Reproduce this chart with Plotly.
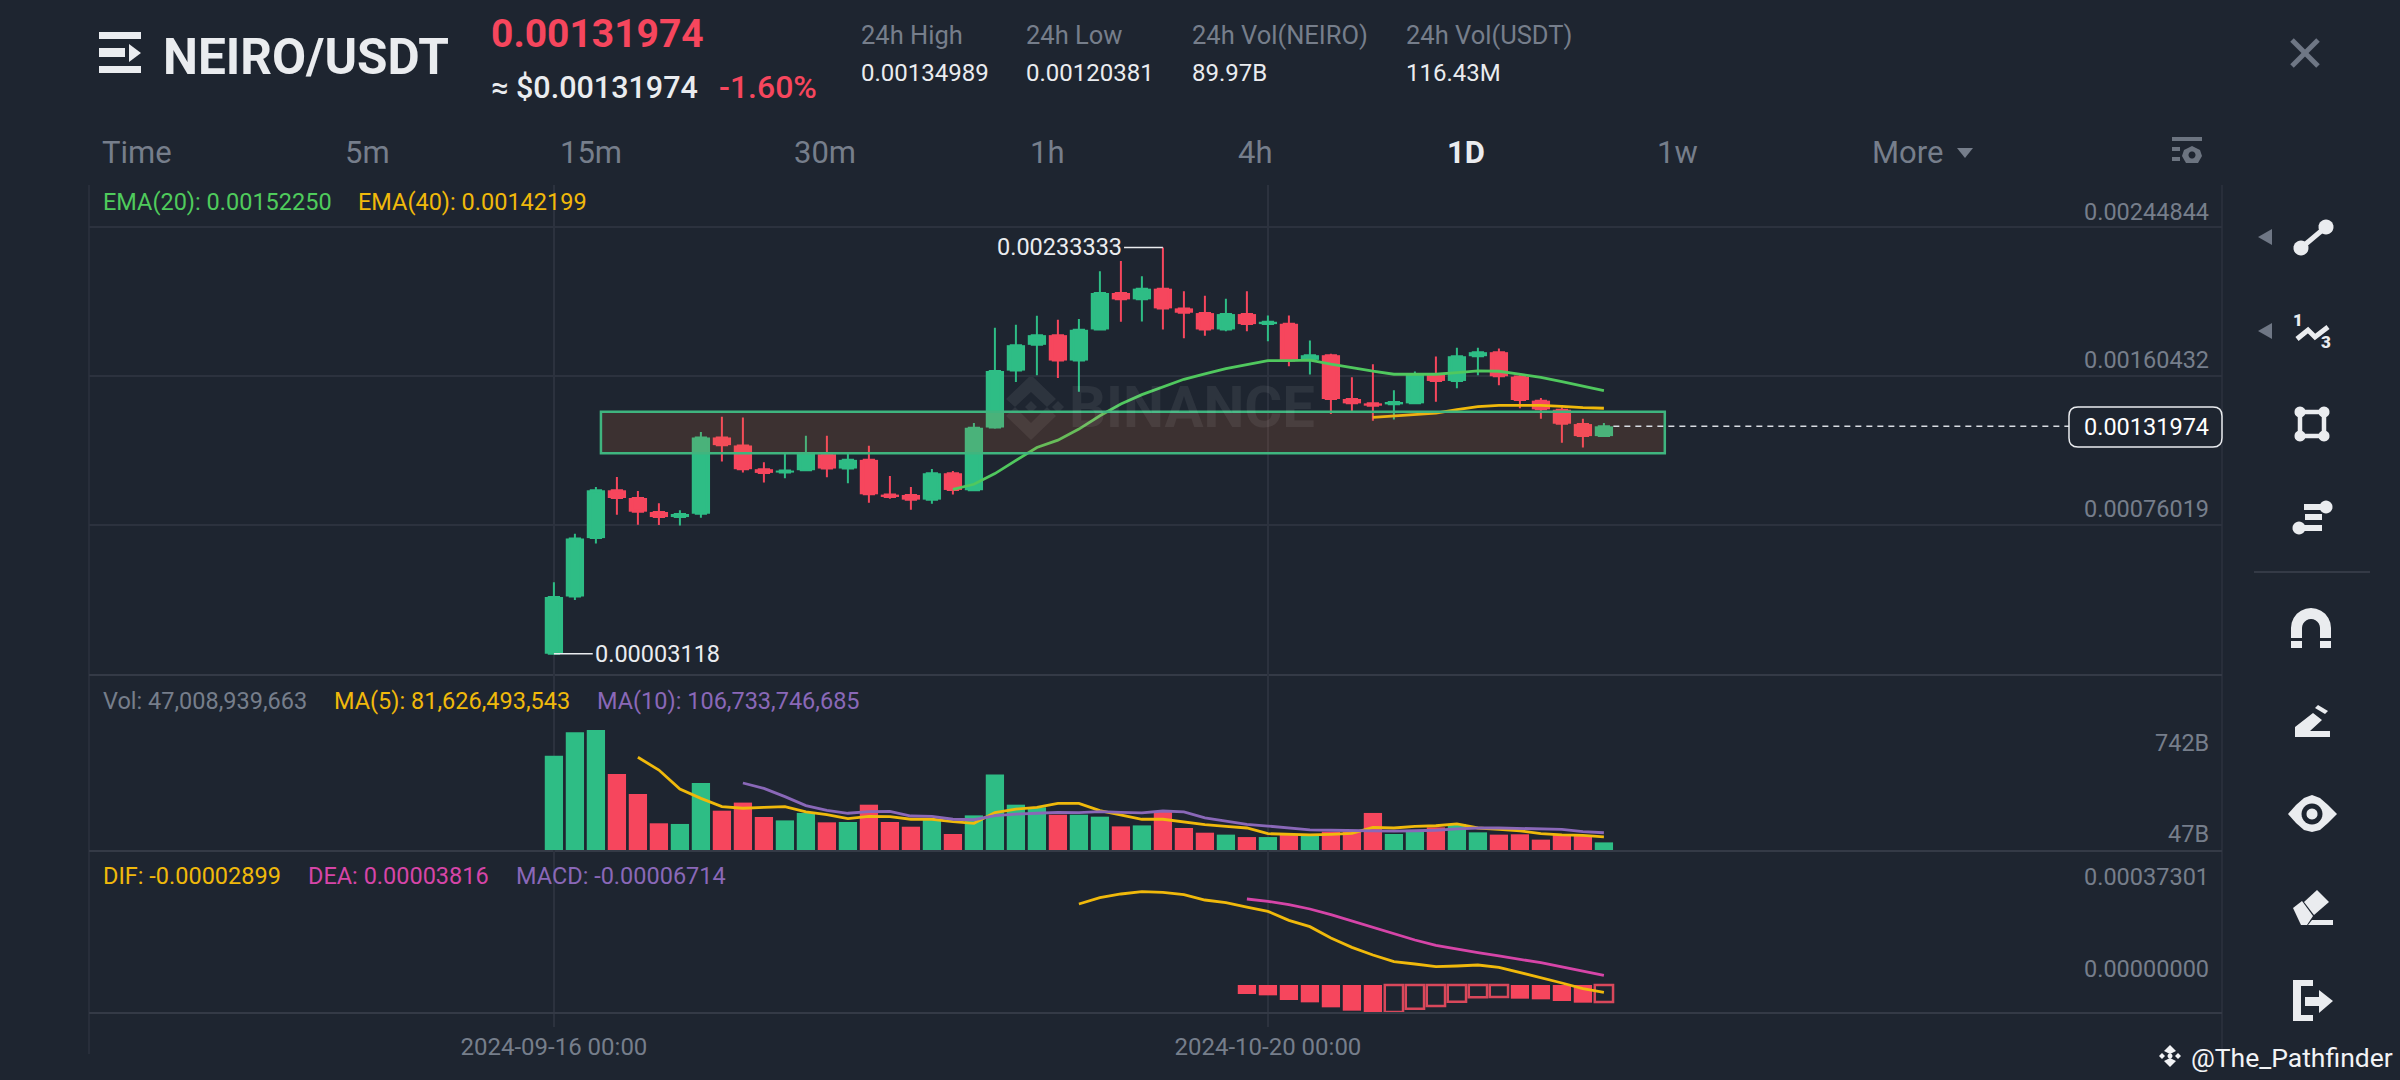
import math
import pandas as pd
import plotly.graph_objects as go

W, H = 2400, 1080
BG = "#1E2530"
GRID = "#2C323E"
EDGE = "#343A46"
GREEN = "#2EBD85"
RED = "#F6465D"
GRAY = "#767E8B"
ICON = "#EAECEF"
FONT = "Roboto"

# ---------- data (prices in units of 1e-5 USDT, volumes in billions) ----------
START_DATE = "2024-09-16"
OPEN_E5 = [3.12,35.47,68.62,95.72,91.36,83.40,80.56,82.46,125.66,121.11,107.66,105.76,107.09,116.18,108.04,112.96,93.26,93.07,90.41,105.38,95.72,131.34,163.55,178.14,183.64,169.24,186.86,207.51,203.91,209.98,198.80,196.14,186.86,195.58,189.89,190.08,169.62,172.27,147.45,144.98,144.42,144.98,161.09,157.68,171.70,173.98,160.14,146.50,141.38,133.24,126.42]
HIGH_E5 = [43.61,71.09,97.61,103.30,95.34,88.33,84.35,128.69,137.41,137.03,111.64,116.56,126.61,126.61,116.56,120.92,103.87,97.61,107.85,106.71,133.81,187.81,189.51,194.63,192.35,192.73,219.83,225.70,216.99,233.333,208.46,206.00,204.29,208.46,194.82,194.82,180.61,173.03,159.76,167.15,152.37,162.99,171.51,176.44,176.44,176.06,161.66,148.02,142.71,136.27,133.81]
LOW_E5 = [3.118,33.57,65.59,81.89,76.20,76.01,75.82,80.18,112.02,105.76,100.08,102.54,106.52,103.11,99.70,88.71,90.98,84.73,88.14,93.26,95.15,130.58,157.11,160.90,159.39,151.62,186.86,191.22,191.41,186.86,181.93,183.26,185.91,185.91,180.23,166.02,161.28,138.92,139.49,135.13,135.89,144.42,145.93,153.51,160.90,155.22,142.14,136.27,122.63,119.97,126.42]
CLOSE_E5 = [35.28,68.43,95.72,91.36,83.59,80.56,82.27,125.66,121.30,107.66,105.57,106.90,116.56,108.04,112.96,93.45,91.93,90.41,105.38,95.91,131.15,163.36,177.95,183.64,169.24,186.67,207.51,203.91,209.98,198.80,196.33,186.86,195.58,189.89,191.22,169.24,172.27,147.45,144.98,143.66,145.74,161.09,157.68,171.70,173.98,160.33,146.88,141.57,133.43,126.42,131.974]
EMA20_START = 19
EMA20_E5 = [96.29,99.13,105.19,112.39,119.97,124.14,130.39,137.97,144.61,149.91,154.46,158.63,161.66,164.69,166.96,169.24,169.24,169.43,167.15,165.07,163.18,161.47,161.47,161.47,162.42,163.36,163.18,161.66,159.76,157.30,154.65,152.25]
EMA40_START = 39
EMA40_E5 = [137.03,137.78,138.54,139.49,141.39,143.09,143.85,144.04,143.85,143.28,142.52,142.199]
VOLUME_B = [583,727,742,470,346,165,161,414,243,293,204,183,229,171,173,280,173,144,185,99,214,466,280,264,218,218,206,146,152,237,136,107,95,80,80,95,89,113,113,229,99,124,140,161,109,95,97,64,93,87,47.0]
MA5_START = 4
MA5_B = [573,494,377,319,268,258,264,268,235,218,194,208,206,190,190,175,165,231,253,264,288,288,243,216,190,190,173,157,146,136,101,95,93,97,103,140,136,146,150,161,136,128,119,101,93,91,81.6]
MA10_START = 9
MA10_B = [414,381,330,274,245,227,237,239,210,208,190,187,212,222,227,233,231,237,233,229,241,235,198,179,159,148,136,124,122,119,119,117,119,122,130,136,136,134,130,128,113,106.7]
DIF_START = 25
DIF_E5 = [31.80,34.29,35.73,36.64,36.38,35.47,33.37,32.32,30.62,28.92,25.39,22.90,18.45,14.79,11.78,9.16,8.24,7.20,7.46,7.85,6.94,4.97,3.01,0.79,-1.44,-2.899]
DEA_START = 33
DEA_E5 = [33.76,32.85,31.54,29.84,27.61,25.13,22.51,19.89,17.67,15.57,14.00,12.69,11.39,10.21,8.77,7.07,5.37,3.816]
MACD_START = 33
MACD_E5 = [-3.53,-4.06,-5.89,-6.81,-8.77,-10.08,-10.60,-10.60,-9.29,-8.24,-6.54,-4.84,-4.71,-5.37,-5.63,-6.28,-6.94,-6.714]
PRICE_TICKS = [0.00244844, 0.00160432, 0.00076019]
X_TICKS = ["2024-09-16", "2024-10-20"]
X_TICK_LABELS = ["2024-09-16 00:00", "2024-10-20 00:00"]
ZONE_E5 = (116.75, 140.25)
ZONE_DAYS = (2.24, 52.9)

E5 = 1e-5
dates = pd.date_range(START_DATE, periods=len(CLOSE_E5), freq="D")
scale = lambda a: [v * E5 for v in a]

# ---------- pixel layout ----------
PL, PR = 89, 2222
Y_TOP, Y_PRICE, Y_VOL, Y_MACD = 185, 674, 850, 1012
X0_PX, DAY_PX = 553.9, 21.0
t0 = pd.Timestamp(START_DATE)
x_range = [t0 + pd.Timedelta(days=(PL - X0_PX) / DAY_PX), t0 + pd.Timedelta(days=(PR - X0_PX) / DAY_PX)]
PRICE_RANGE = [-8.39e-5, 268.72e-5]
VOL_RANGE = [0, 1087.7]
MACD_RANGE = [-10.6e-5, 53.0e-5]

px = lambda x: x / W
py = lambda y: 1 - y / H


def poly(points):
    return "M" + " L".join(f"{px(x):.5f},{py(y):.5f}" for x, y in points) + " Z"


def open_path(points):
    return "M" + " L".join(f"{px(x):.5f},{py(y):.5f}" for x, y in points)


def circle(cx, cy, r, n=28):
    return poly([(cx + r * math.cos(2 * math.pi * i / n), cy + r * math.sin(2 * math.pi * i / n)) for i in range(n)])


shapes = []


def fill(path, color=ICON, layer="above"):
    shapes.append(dict(type="path", xref="paper", yref="paper", path=path, fillcolor=color, line=dict(width=0), layer=layer))


def stroke(points, color=ICON, width=3):
    shapes.append(dict(type="path", xref="paper", yref="paper", path=open_path(points), line=dict(color=color, width=width)))


annotations = []


def txt(x, y, text, color=GRAY, size=23, anchor="left", weight=400):
    annotations.append(dict(xref="paper", yref="paper", x=px(x), y=py(y), text=text, showarrow=False,
                            xanchor=anchor, yanchor="middle", borderpad=0,
                            font=dict(family=FONT, size=size, color=color, weight=weight)))


# ---------- traces ----------
fig = go.Figure()
candle_colors = [GREEN if c >= o else RED for o, c in zip(OPEN_E5, CLOSE_E5)]
# candle bodies at the reference's width (the candlestick trace has no width setting)
fig.add_trace(go.Bar(x=dates, base=scale([min(o, c) for o, c in zip(OPEN_E5, CLOSE_E5)]),
                     y=scale([abs(c - o) for o, c in zip(OPEN_E5, CLOSE_E5)]),
                     xaxis="x", yaxis="y", marker=dict(color=candle_colors, line=dict(width=0))))
fig.add_trace(go.Candlestick(x=dates, open=scale(OPEN_E5), high=scale(HIGH_E5), low=scale(LOW_E5), close=scale(CLOSE_E5),
                             xaxis="x", yaxis="y", whiskerwidth=0, hoverinfo="skip",
                             increasing=dict(line=dict(color=GREEN, width=2), fillcolor=GREEN),
                             decreasing=dict(line=dict(color=RED, width=2), fillcolor=RED)))
fig.add_trace(go.Scatter(x=dates[EMA20_START:], y=scale(EMA20_E5), mode="lines", xaxis="x", yaxis="y",
                         line=dict(color="#50C85E", width=2.8)))
fig.add_trace(go.Scatter(x=dates[EMA40_START:], y=scale(EMA40_E5), mode="lines", xaxis="x", yaxis="y",
                         line=dict(color="#F0B90B", width=2.8)))
fig.add_trace(go.Bar(x=dates, y=VOLUME_B, xaxis="x2", yaxis="y2", marker=dict(color=candle_colors, line=dict(width=0))))
fig.add_trace(go.Scatter(x=dates[MA5_START:], y=MA5_B, mode="lines", xaxis="x2", yaxis="y2",
                         line=dict(color="#F0B90B", width=2.8)))
fig.add_trace(go.Scatter(x=dates[MA10_START:], y=MA10_B, mode="lines", xaxis="x2", yaxis="y2",
                         line=dict(color="#8A68B8", width=2.8)))
hollow = [i > 0 and v >= MACD_E5[i - 1] for i, v in enumerate(MACD_E5)]
fig.add_trace(go.Bar(x=dates[MACD_START:], y=scale(MACD_E5), xaxis="x3", yaxis="y3",
                     marker=dict(color=["rgba(0,0,0,0)" if h else RED for h in hollow],
                                 line=dict(color=["#D9485B" if h else RED for h in hollow],
                                           width=[2.5 if h else 0 for h in hollow]))))
fig.add_trace(go.Scatter(x=dates[DIF_START:], y=scale(DIF_E5), mode="lines", xaxis="x3", yaxis="y3",
                         line=dict(color="#F0B90B", width=2.8)))
fig.add_trace(go.Scatter(x=dates[DEA_START:], y=scale(DEA_E5), mode="lines", xaxis="x3", yaxis="y3",
                         line=dict(color="#D645A8", width=2.8)))

# ---------- chart overlays ----------
shapes.append(dict(type="rect", xref="x", yref="y",
                   x0=t0 + pd.Timedelta(days=ZONE_DAYS[0]), x1=t0 + pd.Timedelta(days=ZONE_DAYS[1]),
                   y0=ZONE_E5[0] * E5, y1=ZONE_E5[1] * E5,
                   fillcolor="rgba(237,122,58,0.15)", line=dict(color="#3FB57F", width=2.5)))
shapes.append(dict(type="line", xref="x", yref="y", x0=dates[-1] + pd.Timedelta(days=0.45),
                   x1=t0 + pd.Timedelta(days=(2069 - X0_PX) / DAY_PX),
                   y0=CLOSE_E5[-1] * E5, y1=CLOSE_E5[-1] * E5, line=dict(color="#D8DCE2", width=1.5, dash="6px,5px")))
# high / low callouts
hi = HIGH_E5.index(max(HIGH_E5))
lo = LOW_E5.index(min(LOW_E5))
hi_end = dates[hi] - pd.Timedelta(days=1.85)
lo_end = dates[lo] + pd.Timedelta(days=1.85)
shapes.append(dict(type="line", xref="x", yref="y", x0=dates[hi], x1=hi_end, y0=HIGH_E5[hi] * E5, y1=HIGH_E5[hi] * E5,
                   line=dict(color="#EAECEF", width=1.5)))
shapes.append(dict(type="line", xref="x", yref="y", x0=dates[lo], x1=lo_end, y0=LOW_E5[lo] * E5, y1=LOW_E5[lo] * E5,
                   line=dict(color="#EAECEF", width=1.5)))
annotations.append(dict(xref="x", yref="y", x=hi_end, y=HIGH_E5[hi] * E5, text=f"{HIGH_E5[hi] * E5:.8f}", showarrow=False,
                        xanchor="right", yanchor="middle", font=dict(family=FONT, size=23.5, color="#EAECEF")))
annotations.append(dict(xref="x", yref="y", x=lo_end, y=LOW_E5[lo] * E5, text="0.00003118", showarrow=False,
                        xanchor="left", yanchor="middle", font=dict(family=FONT, size=23.5, color="#EAECEF")))

# watermark
WM = "rgba(255,255,255,0.07)"
fill(poly([(1031, 375), (1056, 399), (1047, 407), (1031, 392), (1015, 407), (1006, 399)]), WM, "below")
fill(poly([(1031, 401), (1037, 407), (1031, 413), (1025, 407)]), WM, "below")
fill(poly([(1052, 407), (1058, 401), (1064, 407), (1058, 413)]), WM, "below")
fill(poly([(1031, 440), (1006, 416), (1015, 407), (1031, 423), (1047, 407), (1056, 416)]), WM, "below")
txt(1068, 407, "BINANCE", "rgba(255,255,255,0.07)", 58, "left", 700)

# borders
for x in (PL, PR):
    shapes.append(dict(type="line", xref="paper", yref="paper", x0=px(x), x1=px(x), y0=py(Y_TOP), y1=py(1054),
                       line=dict(color=GRID, width=1.5), layer="below"))

# ---------- texts ----------
txt(162, 57, "NEIRO/USDT", ICON, 49.5, "left", 700)
txt(490, 34, "0.00131974", RED, 39, "left", 700)
txt(490, 87, "≈ $0.00131974", ICON, 30.5, "left", 500)
txt(718, 87, "-1.60%", RED, 32, "left", 500)
for x, head, val in [(860, "24h High", "0.00134989"), (1025, "24h Low", "0.00120381"),
                     (1191, "24h Vol(NEIRO)", "89.97B"), (1405, "24h Vol(USDT)", "116.43M")]:
    txt(x, 35, head, GRAY, 25.5)
    txt(x, 73, val, ICON, 24)
txt(101, 153, "Time", GRAY, 31)
for x, label in [(367, "5m"), (591, "15m"), (825, "30m"), (1047, "1h"), (1255, "4h"), (1677, "1w"), (1907, "More")]:
    txt(x, 153, label, GRAY, 31, "center")
txt(1466, 153, "1D", ICON, 31, "center", 700)
fill(poly([(1957, 148), (1973, 148), (1965, 158)]), GRAY)

txt(102, 202, "EMA(20): 0.00152250", "#4FCB5C", 23.5)
txt(357, 202, "EMA(40): 0.00142199", "#F0B90B", 23.5)
txt(102, 701, "Vol: 47,008,939,663", GRAY, 23.5)
txt(333, 701, "MA(5): 81,626,493,543", "#F0B90B", 23.5)
txt(596, 701, "MA(10): 106,733,746,685", "#8A68B8", 23.5)
txt(102, 876, "DIF: -0.00002899", "#F0B90B", 23.5)
txt(307, 876, "DEA: 0.00003816", "#D645A8", 23.5)
txt(515, 876, "MACD: -0.00006714", "#8A68B8", 23.5)

for y, label in [(212, "0.00244844"), (360, "0.00160432"), (509, "0.00076019"), (743, "742B"), (834, "47B"),
                 (877, "0.00037301"), (969, "0.00000000")]:
    txt(2210, y, label, GRAY, 23.5, "right")

# current price tag
x0, x1, y0, y1, r = 2069, 2222, 407, 447, 9
tag = (f"M{px(x0 + r):.5f},{py(y0):.5f} L{px(x1 - r):.5f},{py(y0):.5f} Q{px(x1):.5f},{py(y0):.5f} {px(x1):.5f},{py(y0 + r):.5f} "
       f"L{px(x1):.5f},{py(y1 - r):.5f} Q{px(x1):.5f},{py(y1):.5f} {px(x1 - r):.5f},{py(y1):.5f} "
       f"L{px(x0 + r):.5f},{py(y1):.5f} Q{px(x0):.5f},{py(y1):.5f} {px(x0):.5f},{py(y1 - r):.5f} "
       f"L{px(x0):.5f},{py(y0 + r):.5f} Q{px(x0):.5f},{py(y0):.5f} {px(x0 + r):.5f},{py(y0):.5f} Z")
shapes.append(dict(type="path", xref="paper", yref="paper", path=tag, fillcolor=BG, line=dict(color="#EAECEF", width=1.5)))
txt(2210, 427, "0.00131974", "#FFFFFF", 23.5, "right")

txt(2190, 1057, "@The_Pathfinder", "#F2F3F5", 26.5)

# ---------- icons ----------
# header menu
fill(poly([(99, 32), (141, 32), (141, 39), (99, 39)]))
fill(poly([(99, 48), (125, 48), (125, 57), (99, 57)]))
fill(poly([(129, 44), (141, 53), (129, 62)]))
fill(poly([(99, 66), (141, 66), (141, 73), (99, 73)]))
# close
stroke([(2292, 40), (2318, 66)], "#6F7785", 5)
stroke([(2318, 40), (2292, 66)], "#6F7785", 5)
# settings
SET = "#6C7480"
fill(poly([(2172, 137), (2202, 137), (2202, 141), (2172, 141)]), SET)
fill(poly([(2172, 147), (2180, 147), (2180, 151), (2172, 151)]), SET)
fill(poly([(2172, 157), (2180, 157), (2180, 161), (2172, 161)]), SET)
fill(poly([(2184, 150), (2192, 146), (2200, 150), (2202, 156), (2198, 163), (2186, 163), (2182, 156)]), SET)
fill(circle(2192, 155, 3.5), BG)
# tool arrows
fill(poly([(2272, 229), (2272, 245), (2258, 237)]), "#6F7785")
fill(poly([(2272, 323), (2272, 339), (2258, 331)]), "#6F7785")
# line tool
stroke([(2301, 248), (2326, 227)], ICON, 5)
fill(circle(2301, 248, 7.5))
fill(circle(2326, 227, 7.5))
# wave tool
stroke([(2297, 339), (2308, 330), (2315, 337), (2328, 327)], ICON, 5)
txt(2298, 320, "1", ICON, 17, "center", 900)
txt(2326, 342, "3", ICON, 17, "center", 900)
# rectangle tool
stroke([(2300, 412), (2324, 412), (2324, 436), (2300, 436), (2300, 412)], ICON, 4.5)
for cx, cy in [(2300, 412), (2324, 412), (2300, 436), (2324, 436)]:
    fill(circle(cx, cy, 5.5))
# fib tool
fill(poly([(2304, 504), (2326, 504), (2326, 510), (2304, 510)]))
fill(poly([(2305, 514), (2322, 514), (2322, 520), (2305, 520)]))
fill(poly([(2299, 525), (2322, 525), (2322, 531), (2299, 531)]))
fill(circle(2326, 507, 6.5))
fill(circle(2299, 528, 6.5))
# separator
shapes.append(dict(type="line", xref="paper", yref="paper", x0=px(2254), x1=px(2370), y0=py(572), y1=py(572),
                   line=dict(color=EDGE, width=2)))
# magnet
mag = [(2291, 628)] + [(2311 - 20 * math.cos(math.pi * i / 12), 628 - 20 * math.sin(math.pi * i / 12)) for i in range(13)]
mag += [(2331, 638), (2320, 638)] + [(2311 + 9 * math.cos(math.pi * i / 12), 628 - 9 * math.sin(math.pi * i / 12)) for i in range(13)]
mag += [(2302, 638), (2291, 638)]
fill(poly(mag))
fill(poly([(2291, 641), (2302, 641), (2302, 648), (2291, 648)]))
fill(poly([(2320, 641), (2331, 641), (2331, 648), (2320, 648)]))
# pencil
fill(poly([(2295, 737), (2295, 727), (2313, 713), (2322, 720), (2310, 731), (2330, 731), (2330, 737)]))
fill(poly([(2318, 705), (2328, 711), (2325, 714), (2315, 708)]))
# eye
fill(poly([(2288, 814), (2296, 805), (2304, 798), (2312, 795), (2320, 798), (2328, 805), (2337, 814),
           (2328, 823), (2320, 830), (2312, 832), (2304, 830), (2296, 823)]))
fill(circle(2312, 814, 10.5), BG)
fill(circle(2312, 814, 5.5))
# eraser
fill(poly([(2317, 890), (2329, 902), (2314, 915), (2304, 902)]))
fill(poly([(2293, 908), (2302, 901), (2313, 916), (2307, 925), (2301, 925)]))
fill(poly([(2312, 920), (2333, 920), (2333, 925), (2308, 925)]))
# exit
fill(poly([(2293, 980), (2313, 980), (2313, 986), (2301, 986), (2301, 1015), (2313, 1015), (2313, 1021), (2293, 1021)]))
fill(poly([(2305, 997), (2319, 997), (2319, 990), (2333, 1001), (2319, 1013), (2319, 1006), (2305, 1006)]))
# corner logo
LOGO = "#F2F3F5"
fill(poly([(2170, 1045), (2176, 1051), (2170, 1054), (2164, 1051)]), LOGO)
fill(poly([(2170, 1067), (2164, 1061), (2170, 1058), (2176, 1061)]), LOGO)
fill(circle(2170, 1056, 2.5), LOGO)
fill(poly([(2159, 1056), (2162, 1053), (2165, 1056), (2162, 1059)]), LOGO)
fill(poly([(2175, 1056), (2178, 1053), (2181, 1056), (2178, 1059)]), LOGO)

# ---------- layout ----------
dom = [px(PL), px(PR)]


def xaxis(**kw):
    base = dict(type="date", domain=dom, range=x_range, tickmode="array", tickvals=X_TICKS, ticktext=["", ""],
                showgrid=True, gridcolor=GRID, gridwidth=1.5, showline=True, linecolor=EDGE, linewidth=1.5,
                zeroline=False, ticks="", fixedrange=True)
    base.update(kw)
    return base


def yaxis(**kw):
    base = dict(side="right", showticklabels=False, ticks="", zeroline=False, showline=False, showgrid=True,
                gridcolor=GRID, gridwidth=1.5, fixedrange=True, tickmode="array")
    base.update(kw)
    return base


fig.update_layout(
    width=W, height=H, margin=dict(l=0, r=0, t=0, b=0, pad=0), autosize=False,
    paper_bgcolor=BG, plot_bgcolor=BG, showlegend=False, hovermode=False, bargap=0.13, barmode="overlay",
    font=dict(family=FONT, color=GRAY),
    xaxis=xaxis(anchor="y", rangeslider=dict(visible=False)),
    xaxis2=xaxis(anchor="y2", matches="x"),
    xaxis3=xaxis(anchor="y3", matches="x", ticks="outside", ticklen=13, tickwidth=1.5, tickcolor=GRID,
                 ticktext=X_TICK_LABELS, tickfont=dict(family=FONT, size=24, color=GRAY)),
    yaxis=yaxis(anchor="x", domain=[py(Y_PRICE), py(Y_TOP)], range=PRICE_RANGE, tickvals=PRICE_TICKS),
    yaxis2=yaxis(anchor="x2", domain=[py(Y_VOL), py(Y_PRICE)], range=VOL_RANGE, tickvals=[], showgrid=False),
    yaxis3=yaxis(anchor="x3", domain=[py(Y_MACD), py(Y_VOL)], range=MACD_RANGE, tickvals=[], showgrid=False),
    shapes=shapes, annotations=annotations,
)

fig.write_html("out.html", config=dict(displayModeBar=False, staticPlot=True),
               post_script=f"document.body.style.margin='0';document.body.style.background='{BG}';document.body.style.overflow='hidden';")
